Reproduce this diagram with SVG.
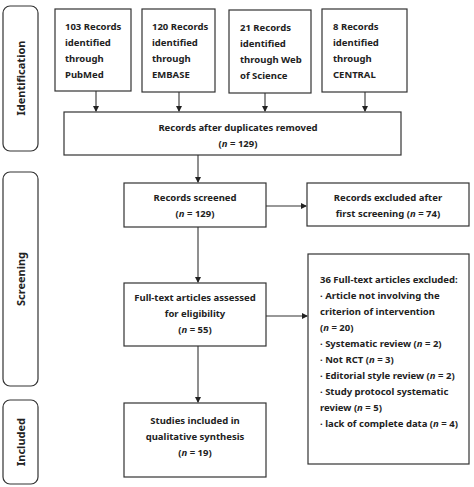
<svg xmlns="http://www.w3.org/2000/svg" width="474" height="487" viewBox="0 0 474 487">
<defs>
<marker id="ah" markerWidth="6" markerHeight="6" refX="5" refY="3" orient="auto" markerUnits="userSpaceOnUse">
<path d="M0,0 L6,3 L0,6 z" fill="#222"/>
</marker>
<style>
.box{fill:#fff;stroke:#333;stroke-width:1.2}
.side{fill:#fff;stroke:#333;stroke-width:1.2}
.t{font-family:"Noto Sans","Open Sans",sans-serif;font-weight:bold;font-size:9.5px;fill:#222}
.c{text-anchor:middle}
.s{font-family:"Noto Sans","Open Sans",sans-serif;font-weight:bold;font-size:11px;fill:#222;text-anchor:middle}
.ln{stroke:#333;stroke-width:1.1;fill:none;marker-end:url(#ah)}
</style>
</defs>
<rect width="474" height="487" fill="#fff"/>
<g id="side-identification"><rect class="side" x="3" y="6" width="35" height="145" rx="7"/><text class="s" transform="translate(24.5,78) rotate(-90)">Identification</text></g>
<g id="side-screening"><rect class="side" x="3" y="172" width="35" height="214" rx="7"/><text class="s" transform="translate(24.5,279) rotate(-90)">Screening</text></g>
<g id="side-included"><rect class="side" x="3" y="400" width="35" height="84" rx="7"/><text class="s" transform="translate(24.5,442) rotate(-90)">Included</text></g>

<g id="pubmed"><rect class="box" x="55" y="9" width="76" height="82"/>
<text class="t" x="65" y="30">103 Records</text><text class="t" x="65" y="46">identified</text><text class="t" x="65" y="62">through</text><text class="t" x="65" y="78">PubMed</text></g>
<g id="embase"><rect class="box" x="142" y="9" width="73" height="83"/>
<text class="t" x="152" y="30">120 Records</text><text class="t" x="152" y="46">identified</text><text class="t" x="152" y="62">through</text><text class="t" x="152" y="78">EMBASE</text></g>
<g id="wos"><rect class="box" x="229" y="10" width="82" height="83"/>
<text class="t" x="240" y="31">21 Records</text><text class="t" x="240" y="47">identified</text><text class="t" x="240" y="63">through Web</text><text class="t" x="240" y="79">of Science</text></g>
<g id="central"><rect class="box" x="322" y="9" width="85" height="83"/>
<text class="t" x="333" y="30">8 Records</text><text class="t" x="333" y="46">identified</text><text class="t" x="333" y="62">through</text><text class="t" x="333" y="78">CENTRAL</text></g>

<g id="duplicates"><rect class="box" x="64" y="112" width="337" height="43"/>
<text class="t c" x="238" y="131">Records after duplicates removed</text>
<text class="t c" x="238" y="147">(<tspan font-style="italic">n</tspan> = 129)</text></g>

<g id="screened"><rect class="box" x="124" y="183" width="142" height="44"/>
<text class="t c" x="195" y="201">Records screened</text>
<text class="t c" x="195" y="217">(<tspan font-style="italic">n</tspan> = 129)</text></g>

<g id="excluded1"><rect class="box" x="307" y="183" width="162" height="43"/>
<text class="t c" x="388" y="201">Records excluded after</text>
<text class="t c" x="388" y="217">first screening (<tspan font-style="italic">n</tspan> = 74)</text></g>

<g id="fulltext"><rect class="box" x="124" y="283" width="142" height="63"/>
<text class="t c" x="195" y="301">Full-text articles assessed</text>
<text class="t c" x="195" y="317">for eligibility</text>
<text class="t c" x="195" y="333">(<tspan font-style="italic">n</tspan> = 55)</text></g>

<g id="excluded2"><rect class="box" x="308" y="254" width="161" height="210"/>
<text class="t" x="320" y="283">36 Full-text articles excluded:</text>
<text class="t" x="320" y="299">· Article not involving the</text>
<text class="t" x="320" y="315">criterion of intervention</text>
<text class="t" x="320" y="331">(<tspan font-style="italic">n</tspan> = 20)</text>
<text class="t" x="320" y="347">· Systematic review (<tspan font-style="italic">n</tspan> = 2)</text>
<text class="t" x="320" y="363">· Not RCT (<tspan font-style="italic">n</tspan> = 3)</text>
<text class="t" x="320" y="379">· Editorial style review (<tspan font-style="italic">n</tspan> = 2)</text>
<text class="t" x="320" y="395">· Study protocol systematic</text>
<text class="t" x="320" y="411">review (<tspan font-style="italic">n</tspan> = 5)</text>
<text class="t" x="320" y="427">· lack of complete data (<tspan font-style="italic">n</tspan> = 4)</text></g>

<g id="included"><rect class="box" x="124" y="403" width="142" height="74"/>
<text class="t c" x="195" y="424">Studies included in</text>
<text class="t c" x="195" y="440">qualitative synthesis</text>
<text class="t c" x="195" y="456">(<tspan font-style="italic">n</tspan> = 19)</text></g>

<g id="connectors">
<line class="ln" x1="96" y1="91" x2="96" y2="111"/>
<line class="ln" x1="179" y1="92" x2="179" y2="111"/>
<line class="ln" x1="265" y1="93" x2="265" y2="111"/>
<line class="ln" x1="365" y1="92" x2="365" y2="111"/>
<line class="ln" x1="198" y1="155" x2="198" y2="182"/>
<line class="ln" x1="266" y1="206" x2="306" y2="206"/>
<line class="ln" x1="198" y1="227" x2="198" y2="282"/>
<line class="ln" x1="266" y1="316" x2="307" y2="316"/>
<line class="ln" x1="198" y1="346" x2="198" y2="402"/>
</g>
</svg>
